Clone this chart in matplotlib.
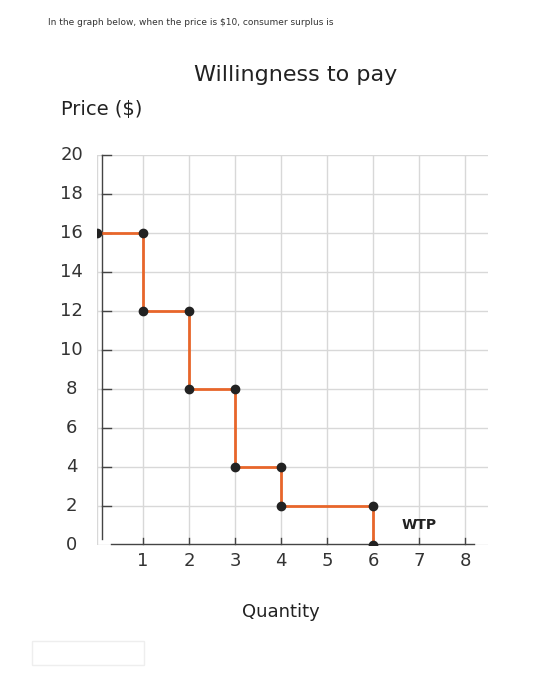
import matplotlib.pyplot as plt
from matplotlib.patches import Rectangle

# step points of the willingness-to-pay curve
qty = [0, 1, 1, 2, 2, 3, 3, 4, 4, 6, 6]
price = [16, 16, 12, 12, 8, 8, 4, 4, 2, 2, 0]
yticks = [0, 2, 4, 6, 8, 10, 12, 14, 16, 18, 20]
xticks = [1, 2, 3, 4, 5, 6, 7, 8]

fig = plt.figure(figsize=(5.33, 7.0), dpi=100)
fig.patch.set_facecolor('white')

ax = fig.add_axes([0.182, 0.221, 0.734, 0.558])
ax.set_xlim(0, 8.5)
ax.set_ylim(0, 20)
ax.set_xticks(range(0, 9))
ax.set_yticks(range(0, 21, 2))
ax.grid(True, color='#d8d8d8', linewidth=1)
ax.tick_params(length=0, labelleft=False, labelbottom=False)
for s in ax.spines.values():
    s.set_visible(False)

ax.plot(qty, price, color='#e8662a', linewidth=2, zorder=3)
ax.plot(qty, price, 'o', color='#222222', markersize=6, linestyle='none', zorder=4)

# y-axis labels with small ticks
for v in yticks:
    ax.text(-0.55, v, str(v), ha='center', va='center', fontsize=13, color='#333333')
    if v > 0:
        ax.plot([0.1, 0.3], [v, v], color='#444444', linewidth=1, clip_on=False)
ax.plot([0.1, 0.1], [0.3, 20], color='#444444', linewidth=1, clip_on=False)

# x-axis labels with small ticks
for v in xticks:
    ax.text(v, -0.8, str(v), ha='center', va='center', fontsize=13, color='#333333')
    ax.plot([v, v], [0.05, 0.35], color='#444444', linewidth=1, clip_on=False)
ax.plot([0.3, 8.2], [0.05, 0.05], color='#444444', linewidth=1, clip_on=False)

ax.text(7, 0.7, 'WTP', ha='center', va='bottom', fontsize=10, fontweight='bold', color='#222222')
ax.text(4, -3.4, 'Quantity', ha='center', va='center', fontsize=13, color='#222222')

fig.text(0.555, 0.893, 'Willingness to pay', ha='center', va='center', fontsize=16, color='#222222')
fig.text(0.19, 0.843, 'Price ($)', ha='center', va='center', fontsize=14, color='#222222')
fig.text(0.09, 0.968, 'In the graph below, when the price is $10, consumer surplus is',
         ha='left', va='center', fontsize=6.5, color='#333333')

fig.patches.append(Rectangle((0.06, 0.05), 0.21, 0.035, transform=fig.transFigure,
                             fill=False, edgecolor='#eeeeee', linewidth=1))

fig.savefig('out.png', dpi=100)
